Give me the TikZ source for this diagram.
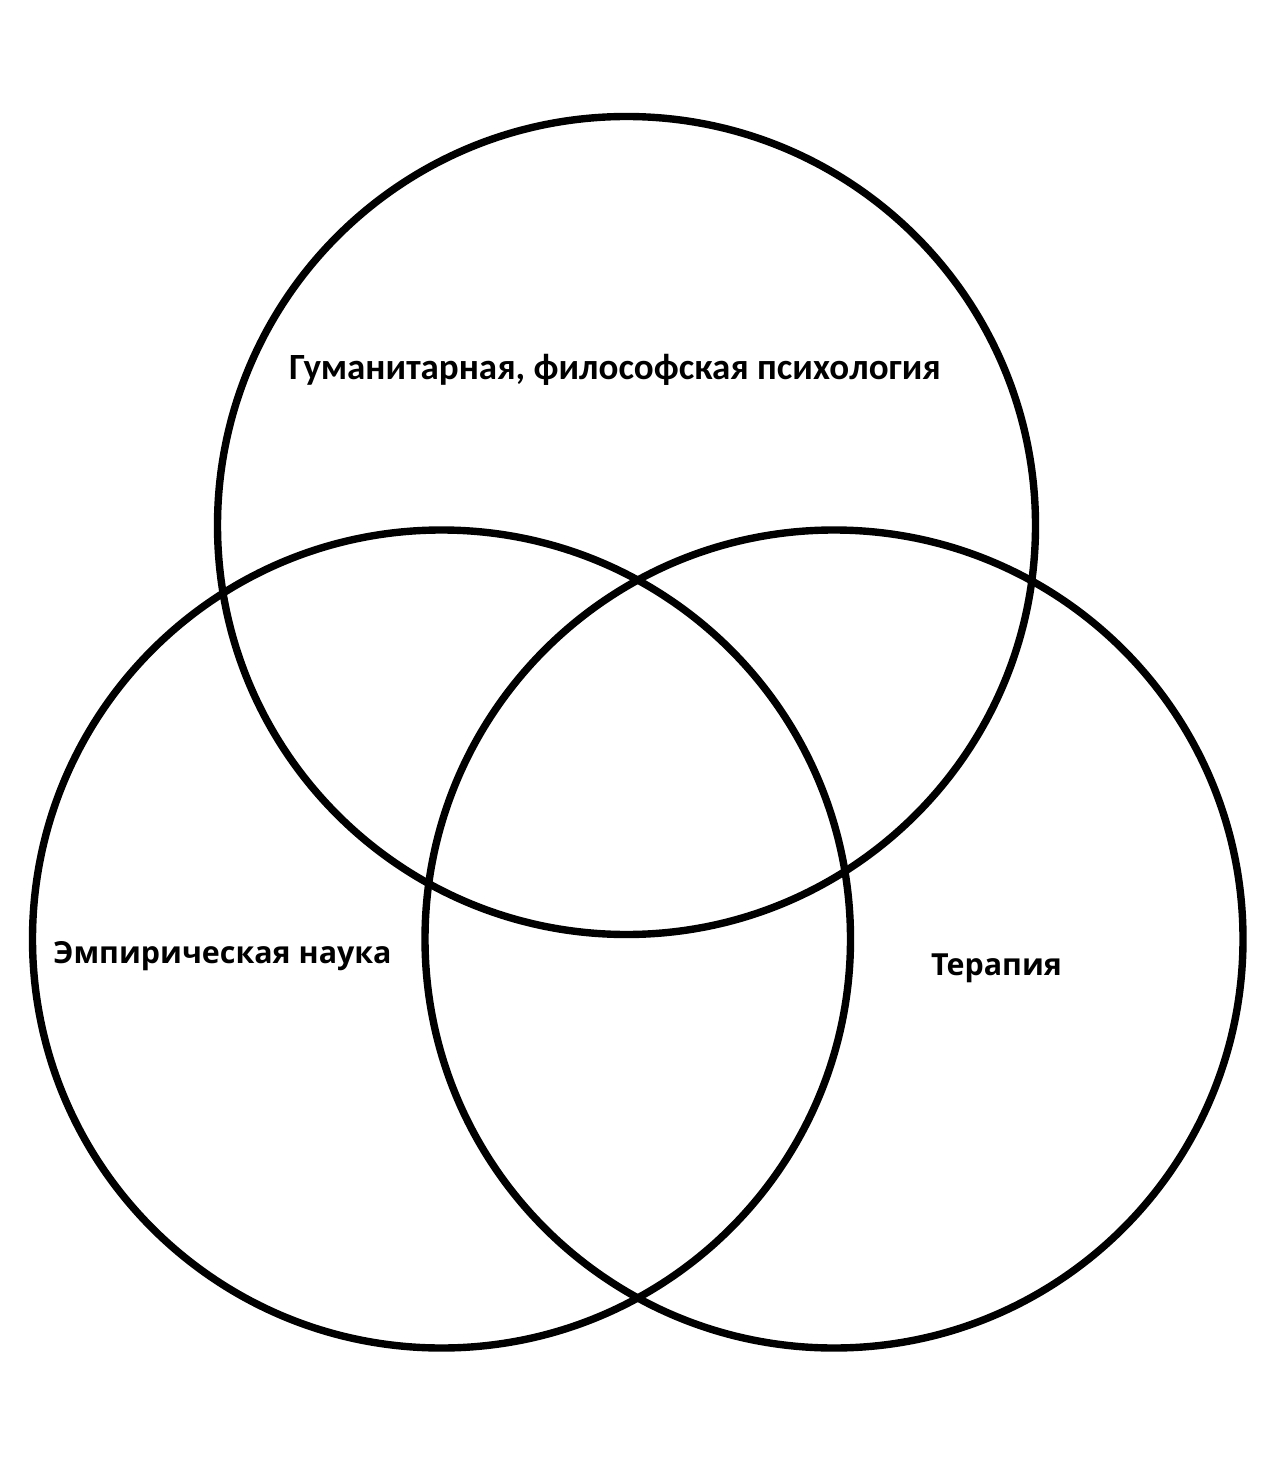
\documentclass[tikz,border=0pt]{standalone}
\usepackage{fontspec}
\setmainfont{Open Sans}
\newfontfamily\calibrifont{Carlito}
\usepackage{tikz}

\begin{document}
\begin{tikzpicture}[x=.5pt,y=-.5pt,
        venn/.style={line width=3.7pt,draw=black},
        lbl/.style={anchor=base,inner sep=0pt,font=\bfseries\fontsize{15.2}{18}\selectfont}]
        \useasboundingbox (0,0) rectangle (1272,1475);
        % Circles:
        \draw[venn] (626.5,525.5) circle[radius=204.5pt];
        \draw[venn] (441.5,939) circle[radius=204.5pt];
        \draw[venn] (834,939) circle[radius=204.5pt];
        % Labels:
        \node[lbl,font=\calibrifont\bfseries\fontsize{18.5}{22}\selectfont] (human) at (615,380) {Гуманитарная, философская психология};
        \node[lbl] (empiric) at (222.5,963) {Эмпирическая наука};
        \node[lbl] (therapy) at (996.5,975) {Терапия};
\end{tikzpicture}
\end{document}
